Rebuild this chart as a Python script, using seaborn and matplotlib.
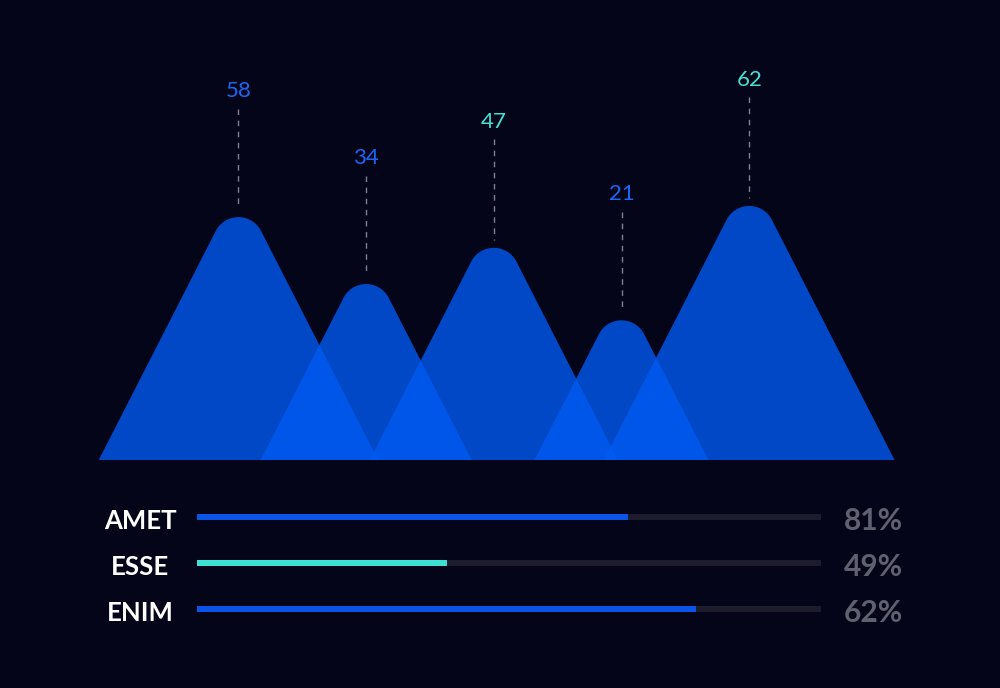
import numpy as np
import matplotlib
matplotlib.use("Agg")
import matplotlib.pyplot as plt
import seaborn as sns

# Peak chart data
peak_values = [58, 34, 47, 21, 62]
peak_label_colors = ["#1d66f5", "#1d66f5", "#43e0d3", "#1d66f5", "#43e0d3"]

# Progress bars (bar length as drawn, label as printed)
bar_names = ["AMET", "ESSE", "ENIM"]
bar_fill = [69, 40, 80]
bar_pct = ["81%", "49%", "62%"]
bar_colors = ["#0a55e8", "#3fe0d4", "#0a55e8"]

bg = "#05051a"
track_color = "#1c1c2c"
mountain_color = "#005af2"

sns.set_theme(style="dark", rc={"axes.facecolor": bg, "figure.facecolor": bg})
plt.rcParams["font.family"] = ["Lato", "DejaVu Sans"]

fig = plt.figure(figsize=(10, 6.88), dpi=100)

# ---- mountains ----
base = -40
ax = fig.add_axes([0, (688 - 460) / 688, 1, 460 / 688])
ax.set_xlim(-1.867, 5.964)
ax.set_ylim(base, base + 460 / 2.789)
ax.set_axis_off()

px_x = 1000 / (ax.get_xlim()[1] - ax.get_xlim()[0])
px_y = 460 / (ax.get_ylim()[1] - ax.get_ylim()[0])
slope = 1.957
theta = np.arctan(1 / slope)
r = 25.4

for i, v in enumerate(peak_values):
    h = (v - base) * px_y
    hw = h / slope
    # rounded top: arc tangent to both sides
    phi = np.linspace(-(np.pi / 2 - theta), np.pi / 2 - theta, 40)
    ax_px = r * np.sin(phi)
    ay_px = -r / np.sin(theta) + r * np.cos(phi)
    xs = np.concatenate([[-hw], ax_px, [hw]]) / px_x + i
    ys = np.concatenate([[-h], ay_px, [-h]]) / px_y + v
    ax.fill(xs, ys, color=mountain_color, alpha=0.8, lw=0)

    ax.plot([i, i], [v + 28, v - 8], color="#80808e", lw=1, ls=(0, (4, 4)))
    ax.text(i, v + 34.2, str(v), ha="center", va="center", fontsize=16,
            color=peak_label_colors[i])

# ---- progress bars ----
ax2 = fig.add_axes([197 / 1000, (688 - 632) / 688, 624 / 1000, 138 / 688])
sns.barplot(x=[100] * 3, y=bar_names, orient="h", color=track_color,
            width=0.152, saturation=1, linewidth=0, ax=ax2)
sns.barplot(x=bar_fill, y=bar_names, hue=bar_names, palette=bar_colors, orient="h",
            width=0.152, saturation=1, linewidth=0, legend=False, ax=ax2)
ax2.set_xlim(0, 100)
ax2.set_ylim(2.5, -0.5)
ax2.set_axis_off()

tr = ax2.get_yaxis_transform()
for j, (name, pct) in enumerate(zip(bar_names, bar_pct)):
    ax2.text(-0.0913, j + 0.08, name, transform=tr, ha="center", va="center",
             fontsize=18.5, fontweight="bold", color="white")
    ax2.text(1.1314, j + 0.08, pct, transform=tr, ha="right", va="center",
             fontsize=21.5, fontweight="bold", color="#60606e")

fig.savefig("out.png", dpi=100, facecolor=bg)
